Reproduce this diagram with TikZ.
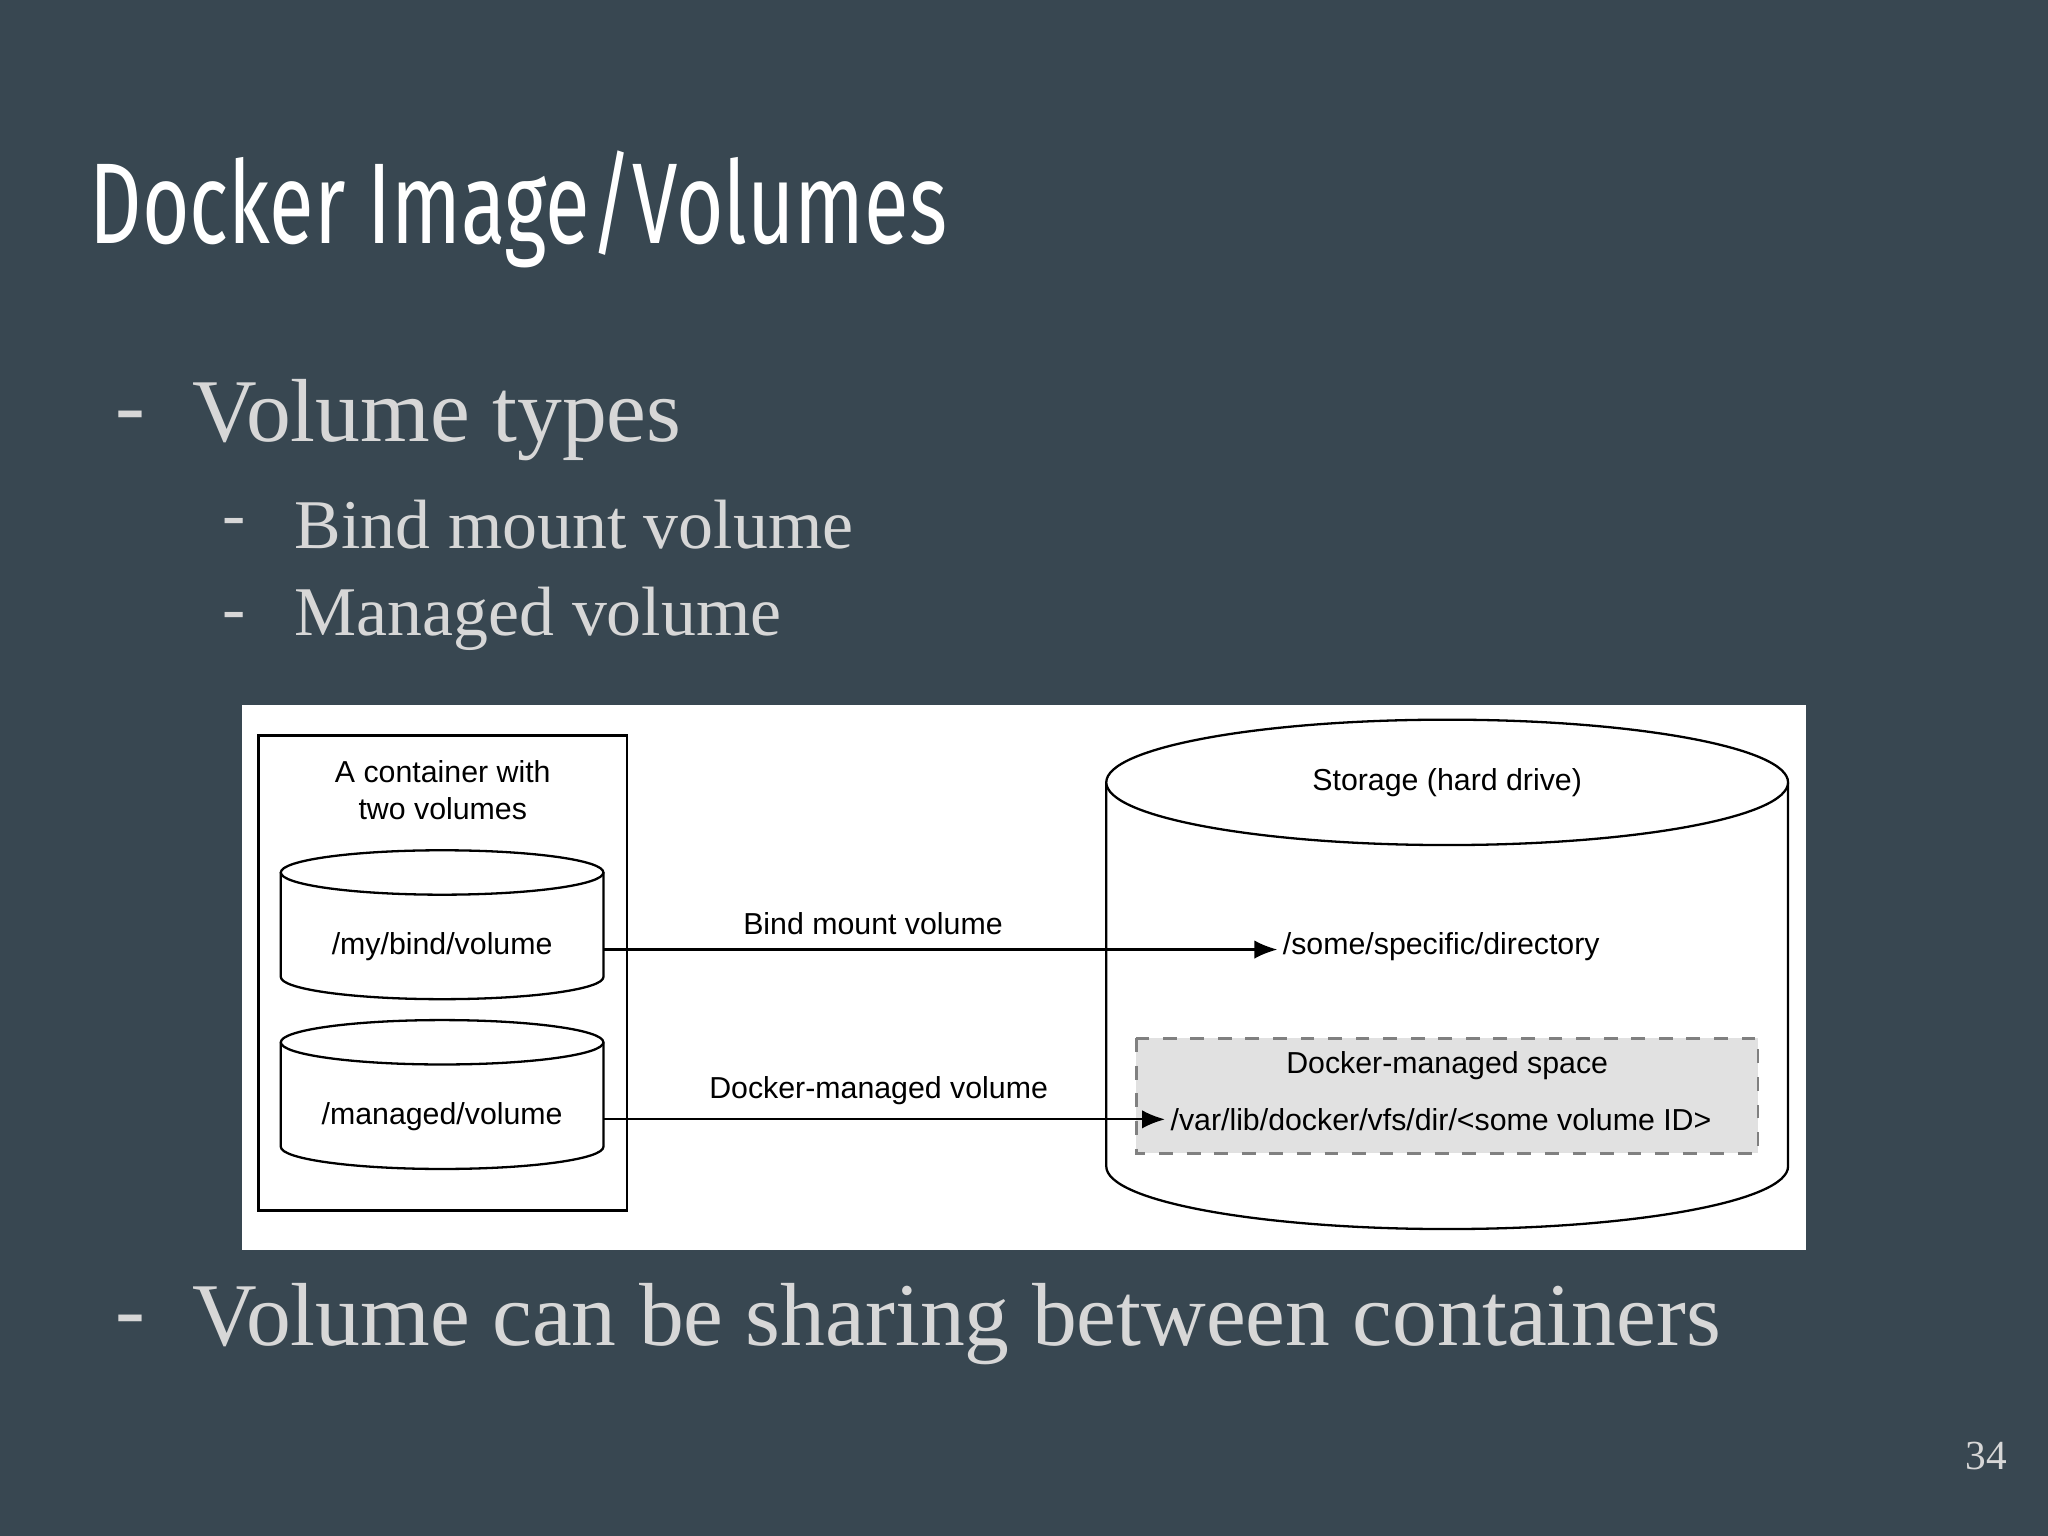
\documentclass[tikz,border=0pt]{standalone}
\usepackage{fontspec}
\setmainfont{Liberation Serif}
\newfontfamily\titlefont[FakeStretch=0.71]{Fira Sans}
\newfontfamily\diagfont{Liberation Sans}
\usetikzlibrary{arrows.meta}
\definecolor{bg}{RGB}{56,71,81}
\definecolor{txt}{RGB}{215,215,215}
\definecolor{dgray}{RGB}{225,225,225}
\tikzset{
  bul/.style={anchor=west,text=txt,inner sep=0pt},
  big/.style={font=\fontsize{19.5}{23}\selectfont},
  small/.style={font=\fontsize{15.2}{18}\selectfont},
  dlab/.style={font=\diagfont\fontsize{6.6}{8}\selectfont,inner sep=1pt},
  conn/.style={-{Latex[length=5pt,width=4pt]},line width=0.5pt},
  cyl/.style={fill=white,draw=black,line width=0.5pt}
}
\begin{document}
\begin{tikzpicture}[x=0.01cm,y=-0.01cm]
\fill[bg] (0,0) rectangle (1568,1176);
\useasboundingbox (0,0) rectangle (1568,1176);
\node[bul,text=white,font=\titlefont\fontsize{25}{30}\selectfont] (title) at (68,160) {Docker Image/Volumes};
\node[bul,big] (b1d) at (88,324) {-};
\node[bul,big] (b1) at (147,322) {Volume types};
\node[bul,small] (b2d) at (170,404) {-};
\node[bul,small] (b2) at (225,402) {Bind mount volume};
\node[bul,small] (b3d) at (170,476) {-};
\node[bul,small] (b3) at (225,474) {Managed volume};
\node[bul,big] (b4d) at (88,1016) {-};
\node[bul,big] (b4) at (147,1014) {Volume can be sharing between containers};
\node[bul,font=\fontsize{9}{11}\selectfont] (pg) at (1504,1115) {34};
% diagram
\fill[white] (185,540) rectangle (1383,957);
\draw[line width=0.6pt] (198,563) rectangle (480,927);
\node[dlab,align=center] (ctitle) at (339,605) {A container with\\two volumes};
% bind cylinder
\draw[cyl] (462,668) -- (462,748) arc[start angle=0,end angle=180,x radius=123.5,y radius=17] -- (215,668);
\draw[cyl] (338.5,668) ellipse[x radius=123.5,y radius=17];
\node[dlab] (bind) at (338.5,725) {/my/bind/volume};
% managed cylinder
\draw[cyl] (462,798) -- (462,878) arc[start angle=0,end angle=180,x radius=123.5,y radius=17] -- (215,798);
\draw[cyl] (338.5,798) ellipse[x radius=123.5,y radius=17];
\node[dlab] (man) at (338.5,855) {/managed/volume};
% storage
\draw[cyl] (1369,599) -- (1369,893) arc[start angle=0,end angle=180,x radius=261,y radius=48] -- (847,599);
\draw[cyl] (1108,599) ellipse[x radius=261,y radius=48];
\node[dlab] (stor) at (1108,599) {Storage (hard drive)};
\node[dlab,anchor=west] (dir) at (978,725) {/some/specific/directory};
\draw[dashed,fill=dgray,draw=gray,line width=0.6pt] (870,795) rectangle (1346,883);
\node[dlab] (dms) at (1108,816) {Docker-managed space};
\node[dlab,anchor=west] (vlib) at (892,857) {/var/lib/docker/vfs/dir/<some volume ID>};
\coordinate (bs) at (462,727);
\coordinate (ms) at (462,857);
\draw[conn] (bs) -- (dir.west |- bs) node[dlab,pos=0.4,above=2pt] (bl) {Bind mount volume};
\draw[conn] (ms) -- (vlib.west |- ms) node[dlab,pos=0.49,above=2pt] (ml) {Docker-managed volume};
\end{tikzpicture}
\end{document}
